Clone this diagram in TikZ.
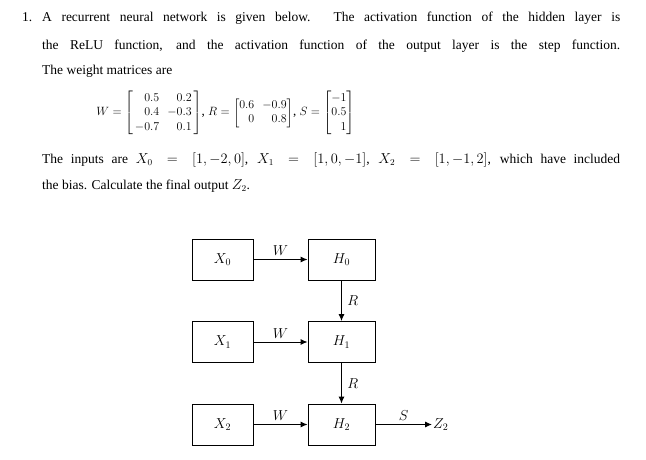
\documentclass[tikz,border=0pt]{standalone}
\usepackage{amsmath}
\usepackage{fontspec}
\setmainfont{Liberation Serif}
\usetikzlibrary{arrows.meta}
\begin{document}
\begin{tikzpicture}[x=1pt,y=-1pt,
  box/.style={draw,line width=0.9pt,minimum width=61pt,minimum height=41pt,inner sep=0pt,font=\fontsize{14}{16}\selectfont},
  conn/.style={line width=0.9pt,-{Latex[length=7pt,width=6pt]}},
  lbl/.style={font=\fontsize{14}{16}\selectfont},
  ln/.style={anchor=base west,inner sep=0pt,font=\fontsize{13.5}{16}\selectfont}]
\useasboundingbox (0,0) rectangle (646,460);
\node[ln] (num) at (22,22) {1.};
\node[ln] (l1) at (42,22) {\makebox[578pt][s]{A recurrent neural network is given below. The activation function of the hidden layer is}};
\node[ln] (l2) at (42,50) {\makebox[578pt][s]{the ReLU function, and the activation function of the output layer is the step function.}};
\node[ln] (l3) at (42,75) {The weight matrices are};
\node[anchor=west,inner sep=0pt] (eq) at (93,113) {\fontsize{13}{15}\selectfont\renewcommand{\arraystretch}{0.95}\setlength{\arraycolsep}{4pt}
 $W=\left[\begin{array}{@{\,}rr@{\,}}0.5&0.2\\0.4&-0.3\\-0.7&0.1\end{array}\right]$,
 $R=\left[\begin{array}{@{}rr@{}}0.6&-0.9\\0&0.8\end{array}\right]$,
 $S=\left[\begin{array}{@{}r@{}}-1\\0.5\\1\end{array}\right]$};
\node[ln] (l4) at (42,163) {\makebox[578pt][s]{The inputs are $X_0=[1,-2,0]$, $X_1=[1,0,-1]$, $X_2=[1,-1,2]$, which have included}};
\node[ln] (l5) at (42,189) {the bias. Calculate the final output $Z_2$.};
\node[box] (x0) at (222.5,259.5) {$X_0$};
\node[box] (x1) at (222.5,342) {$X_1$};
\node[box] (x2) at (222.5,424.5) {$X_2$};
\node[box,minimum width=67pt] (h0) at (341.5,259.5) {$H_0$};
\node[box,minimum width=67pt] (h1) at (341.5,342) {$H_1$};
\node[box,minimum width=67pt] (h2) at (341.5,424.5) {$H_2$};
\coordinate (z) at (432,424.5);
\draw[conn] (x0) -- node[lbl,above] {$W$} (h0);
\draw[conn] (x1) -- node[lbl,above] {$W$} (h1);
\draw[conn] (x2) -- node[lbl,above] {$W$} (h2);
\draw[conn] (h0) -- node[lbl,right,xshift=2pt] {$R$} (h1);
\draw[conn] (h1) -- node[lbl,right,xshift=2pt] {$R$} (h2);
\draw[conn] (h2) -- node[lbl,above] {$S$} (z);
\node[lbl,anchor=west,inner sep=1pt] (z2) at (z) {$Z_2$};
\end{tikzpicture}
\end{document}
